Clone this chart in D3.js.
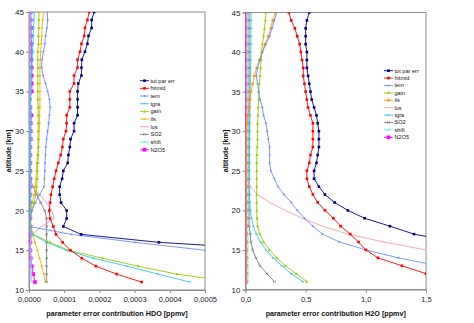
<!DOCTYPE html>
<html>
<head>
<script src="https://cdnjs.cloudflare.com/ajax/libs/d3/7.8.5/d3.min.js"></script>
<style>
  body { margin: 0; background: #fff; }
  svg { font-family: "Liberation Sans", Arial, sans-serif; }
  .tick text { fill: #222; }
</style>
</head>
<body>
<div id="vis"></div>
<script>
// altitude levels [km], top to bottom
const altitudes = [45,44,43,42,41,40,39,38,37,36,35,34,33,32,31,30,29,28,27,26,25,24,23,22,21,20,19,18,17,16,15,14,13,12,11];

// ---- HDO panel, values in 1e-4 ppmv (null = not plotted) ----
const hdoTot    = [1.85,1.78,1.78,1.69,1.66,1.59,1.50,1.49,1.49,1.40,1.38,1.38,1.38,1.38,1.28,1.28,1.18,1.16,1.12,1.10,0.975,0.94,0.87,0.87,0.91,1.07,1.07,0.975,1.48,3.69,7.4,null,null,null,null];
const hdoHitmid = [1.71,1.66,1.59,1.57,1.49,1.45,1.38,1.38,1.28,1.28,1.16,1.16,1.16,1.07,1.07,1.05,0.975,0.95,0.90,0.833,0.767,0.716,0.672,0.625,0.60,0.578,0.60,0.69,0.767,0.956,1.18,1.50,1.90,2.49,3.20];
const hdoTem    = [0.52,0.53,0.51,0.47,0.45,0.41,0.37,0.36,0.40,0.47,0.53,0.58,0.60,0.58,0.56,0.53,0.50,0.48,0.47,0.455,0.45,0.44,0.43,0.30,0.18,0.08,0.03,0.01,1.2,3.0,5.0,7.5,null,null,null];
const hdoTgra   = [0.15,0.14,0.13,0.12,0.11,0.10,0.09,0.08,0.07,0.06,0.05,0.04,0.03,0.03,0.03,0.03,0.03,0.03,0.03,0.03,0.03,0.03,0.03,0.03,0.03,0.03,0.03,0.03,0.10,0.50,1.07,1.83,2.78,3.67,4.57];
const hdoGain   = [0.28,0.28,0.28,0.27,0.27,0.25,0.25,0.25,0.25,0.25,0.25,0.25,0.26,0.26,0.26,0.26,0.26,0.26,0.26,0.25,0.24,0.23,0.22,0.19,0.14,0.08,0.04,0.03,0.12,0.60,1.12,2.09,3.10,4.20,5.8];
const hdoIls    = [0.41,0.39,0.37,0.36,0.35,0.33,0.32,0.31,0.31,0.31,0.31,0.31,0.31,0.30,0.30,0.29,0.28,0.27,0.25,0.22,0.21,0.20,0.18,0.14,0.09,0.05,0.04,0.06,0.10,0.17,0.24,0.30,0.36,0.42,0.47];
const hdoLos    = [0.01,0.01,0.01,0.01,0.01,0.01,0.01,0.01,0.01,0.01,0.01,0.01,0.01,0.01,0.01,0.01,0.01,0.01,0.01,0.01,0.01,0.02,0.10,0.30,0.50,0.65,0.72,0.35,0.10,0.03,0.03,0.03,0.03,0.03,0.03];
const hdoSo2    = [0.02,0.02,0.02,0.02,0.02,0.02,0.02,0.02,0.02,0.02,0.02,0.02,0.02,0.02,0.02,0.02,0.02,0.02,0.02,0.02,0.02,0.03,0.12,0.22,0.33,0.45,0.50,0.50,0.50,0.50,0.50,0.50,0.50,0.50,0.50];
const hdoShift  = [0.05,0.05,0.05,0.05,0.05,0.05,0.05,0.05,0.05,0.05,0.05,0.05,0.05,0.05,0.05,0.05,0.05,0.05,0.05,0.05,0.05,0.05,0.05,0.05,0.05,0.05,0.05,0.05,0.05,0.05,0.05,0.06,0.06,0.07,0.08];
const hdoN2o5   = [0.05,0.05,0.06,0.06,0.07,0.07,0.07,0.08,0.08,0.08,0.08,0.02,0.04,0.07,0.05,0.05,0.05,0.04,0.04,0.04,0.04,0.04,0.04,0.04,0.04,0.04,0.04,0.04,0.04,0.04,0.04,0.05,0.08,0.12,0.17];

// ---- H2O panel, values in ppmv ----
const h2oTot    = [0.53,0.51,0.50,0.50,0.50,0.51,0.51,0.51,0.52,0.53,0.54,0.55,0.57,0.59,0.60,0.61,0.61,0.61,0.60,0.59,0.57,0.57,0.61,0.66,0.74,0.85,0.99,1.20,1.40,1.75,null,null,null,null,null];
const h2oHitmid = [0.36,0.38,0.41,0.43,0.45,0.46,0.47,0.48,0.48,0.49,0.50,0.51,0.52,0.54,0.56,0.56,0.56,0.56,0.54,0.53,0.51,0.51,0.53,0.56,0.60,0.66,0.73,0.79,0.87,0.94,1.00,1.10,1.30,1.50,1.70];
const h2oTem    = [0.26,0.24,0.22,0.20,0.17,0.14,0.12,0.10,0.09,0.10,0.11,0.12,0.14,0.15,0.17,0.18,0.19,0.20,0.20,0.20,0.21,0.24,0.27,0.32,0.38,0.43,0.49,0.56,0.64,0.78,1.00,1.27,1.60,1.95,2.30];
const h2oGain   = [0.17,0.165,0.158,0.15,0.14,0.134,0.13,0.125,0.12,0.115,0.11,0.11,0.105,0.105,0.10,0.10,0.10,0.097,0.095,0.093,0.093,0.093,0.093,0.093,0.093,0.093,0.095,0.10,0.12,0.15,0.20,0.26,0.33,0.42,0.51];
const h2oIls    = [0.25,0.226,0.21,0.19,0.162,0.137,0.115,0.093,0.073,0.06,0.046,0.038,0.027,0.02,0.012,0.008,0.006,0.006,0.006,0.006,0.006,0.006,0.006,0.006,0.006,0.006,0.006,0.006,0.006,0.006,0.006,0.006,0.006,0.006,0.006];
const h2oLos    = [0.01,0.01,0.01,0.01,0.01,0.01,0.01,0.01,0.01,0.01,0.01,0.01,0.01,0.01,0.01,0.01,0.01,0.01,0.01,0.01,0.01,0.01,0.04,0.10,0.20,0.33,0.47,0.64,0.85,1.15,1.50,1.85,null,null,null];
const h2oTgra   = [0.046,0.046,0.045,0.045,0.044,0.044,0.043,0.042,0.041,0.040,0.039,0.038,0.037,0.036,0.035,0.034,0.033,0.032,0.031,0.030,0.030,0.030,0.031,0.033,0.035,0.040,0.050,0.065,0.09,0.125,0.17,0.23,0.30,0.38,0.475];
const h2oSo2    = [0.03,0.03,0.03,0.03,0.03,0.03,0.03,0.03,0.03,0.03,0.03,0.03,0.03,0.03,0.03,0.03,0.03,0.03,0.03,0.03,0.03,0.03,0.03,0.03,0.03,0.03,0.03,0.03,0.04,0.045,0.06,0.087,0.12,0.178,0.24];
const h2oShift  = [0.02,0.02,0.02,0.02,0.02,0.02,0.02,0.02,0.02,0.02,0.02,0.02,0.02,0.02,0.02,0.02,0.02,0.02,0.02,0.02,0.02,0.02,0.02,0.02,0.02,0.02,0.02,0.02,0.02,0.02,0.02,0.02,0.02,0.02,0.02];
const h2oN2o5   = [0.003,0.003,0.003,0.003,0.003,0.003,0.003,0.003,0.003,0.003,0.003,0.003,0.003,0.003,0.003,0.003,0.003,0.003,0.003,0.003,0.003,0.003,0.003,0.003,0.003,0.003,0.003,0.003,0.003,0.003,0.003,0.003,0.003,0.003,0.003];

const yTicks = [10,15,20,25,30,35,40,45];
const hdoTicks = [0, 0.0001, 0.0002, 0.0003, 0.0004, 0.0005];
const h2oTicks = [0, 0.5, 1.0, 1.5];

// series styles: colour + marker
const sty = {
  tot:    {c: "#000080", m: "square", s: 2.6},
  hitmid: {c: "#ff0000", m: "square", s: 2.6},
  tem:    {c: "#6f8cff", m: "plus",   s: 2.4},
  tgra:   {c: "#33c6e6", m: "dash",   s: 2.4},
  gain:   {c: "#99cc00", m: "tri",    s: 2.8},
  ilsL:   {c: "#e8b800", m: "dash",   s: 2.4},
  ilsR:   {c: "#ff9900", m: "square", s: 2.4},
  losL:   {c: "#e890d8", m: "none",   s: 0},
  losR:   {c: "#f4a0a0", m: "none",   s: 0},
  so2:    {c: "#808080", m: "star",   s: 2.6},
  shift:  {c: "#66e6ff", m: "dash",   s: 2.4},
  n2o5:   {c: "#ff00ff", m: "square", s: 3.6}
};

const W = 474, H = 323;
const svg = d3.select("#vis").append("svg").attr("width", W).attr("height", H);

const hdoFmt = v => d3.format(".4f")(v).replace(".", ",");
const h2oFmt = v => d3.format(".1f")(v).replace(".", ",");

const panels = [
  {
    id: "hdo", x0: 29, x1: 205, y0: 290, y1: 12, dom: [0, 0.0005], unit: 1e-4,
    ticks: hdoTicks, fmt: hdoFmt, title: "parameter error contribution HDO [ppmv]",
    ylabX: 8, legX: 140, legY: 80.7, legDy: 7.67,
    series: [
      ["tot par err", hdoTot, sty.tot], ["hitmid", hdoHitmid, sty.hitmid], ["tem", hdoTem, sty.tem],
      ["tgra", hdoTgra, sty.tgra], ["gain", hdoGain, sty.gain], ["ils", hdoIls, sty.ilsL],
      ["los", hdoLos, sty.losL], ["SO2", hdoSo2, sty.so2], ["shift", hdoShift, sty.shift],
      ["N2O5", hdoN2o5, sty.n2o5]
    ]
  },
  {
    id: "h2o", x0: 245.5, x1: 426, y0: 289.5, y1: 12.5, dom: [0, 1.5], unit: 1,
    ticks: h2oTicks, fmt: h2oFmt, title: "parameter error contribution H2O [ppmv]",
    ylabX: 225, legX: 384, legY: 70.7, legDy: 7.4,
    series: [
      ["tot par err", h2oTot, sty.tot], ["hitmid", h2oHitmid, sty.hitmid], ["tem", h2oTem, sty.tem],
      ["gain", h2oGain, sty.gain], ["ils", h2oIls, sty.ilsR], ["los", h2oLos, sty.losR],
      ["tgra", h2oTgra, sty.tgra], ["SO2", h2oSo2, sty.so2], ["shift", h2oShift, sty.shift],
      ["N2O5", h2oN2o5, sty.n2o5]
    ]
  }
];

function marker(g, st, x, y) {
  const s = st.s;
  if (st.m === "square") {
    g.append("rect").attr("x", x - s / 2).attr("y", y - s / 2).attr("width", s).attr("height", s).attr("fill", st.c);
  } else if (st.m === "tri") {
    g.append("path").attr("d", `M${x},${y - s * 0.6}L${x + s * 0.55},${y + s * 0.4}L${x - s * 0.55},${y + s * 0.4}Z`).attr("fill", st.c);
  } else if (st.m === "plus") {
    g.append("path").attr("d", `M${x - s / 2},${y}h${s}M${x},${y - s / 2}v${s}`).attr("stroke", st.c).attr("stroke-width", 0.7);
  } else if (st.m === "dash") {
    g.append("path").attr("d", `M${x - s / 2},${y}h${s}`).attr("stroke", st.c).attr("stroke-width", 1.1);
  } else if (st.m === "star") {
    g.append("path").attr("d", `M${x - s / 2},${y - s / 2}l${s},${s}M${x - s / 2},${y + s / 2}l${s},${-s}M${x - s / 2},${y}h${s}`)
      .attr("stroke", st.c).attr("stroke-width", 0.6);
  }
}

panels.forEach(p => {
  const x = d3.scaleLinear().domain(p.dom).range([p.x0, p.x1]);
  const y = d3.scaleLinear().domain([10, 45]).range([p.y0, p.y1]);
  const g = svg.append("g").attr("id", p.id);

  g.append("clipPath").attr("id", "clip-" + p.id).append("rect")
    .attr("x", p.x0).attr("y", p.y1).attr("width", p.x1 - p.x0).attr("height", p.y0 - p.y1);

  // frame
  g.append("rect").attr("x", p.x0).attr("y", p.y1).attr("width", p.x1 - p.x0).attr("height", p.y0 - p.y1)
    .attr("fill", "none").attr("stroke", "#8c8c8c").attr("stroke-width", 1);

  const yAx = g.append("g").attr("transform", `translate(${p.x0},0)`)
    .call(d3.axisLeft(y).tickValues(yTicks).tickSize(3).tickPadding(2));
  yAx.selectAll("text").style("font-size", "8px");
  const xAx = g.append("g").attr("transform", `translate(0,${p.y0})`)
    .call(d3.axisBottom(x).tickValues(p.ticks).tickFormat(p.fmt).tickSize(3).tickPadding(4));
  xAx.selectAll("text").style("font-size", "7.5px");
  g.selectAll(".domain").attr("stroke", "#8c8c8c");
  g.selectAll(".tick line").attr("stroke", "#8c8c8c");

  g.append("text").attr("x", (p.x0 + p.x1) / 2).attr("y", 316).attr("text-anchor", "middle")
    .style("font-size", "7.2px").style("font-weight", "bold").attr("fill", "#111").text(p.title);
  g.append("text").attr("transform", `translate(${p.ylabX},${(p.y0 + p.y1) / 2}) rotate(-90)`)
    .attr("text-anchor", "middle").attr("dy", "0.35em")
    .style("font-size", "7.2px").style("font-weight", "bold").attr("fill", "#111").text("altitude [km]");

  const plot = g.append("g").attr("clip-path", `url(#clip-${p.id})`);
  const line = d3.line().defined(d => d[0] != null).x(d => x(d[0] * p.unit)).y(d => y(d[1]));

  // draw bottom of legend first so tot par err sits on top
  p.series.slice().reverse().forEach(([name, vals, st]) => {
    const pts = vals.map((v, i) => [v, altitudes[i]]);
    plot.append("path").datum(pts).attr("d", line).attr("fill", "none")
      .attr("stroke", st.c).attr("stroke-width", 0.9);
    const mg = plot.append("g");
    pts.filter(d => d[0] != null).forEach(d => marker(mg, st, x(d[0] * p.unit), y(d[1])));
  });

  // legend
  const leg = g.append("g");
  p.series.forEach(([name, vals, st], i) => {
    const ly = p.legY + i * p.legDy;
    leg.append("line").attr("x1", p.legX).attr("x2", p.legX + 9).attr("y1", ly).attr("y2", ly)
      .attr("stroke", st.c).attr("stroke-width", 0.9);
    marker(leg, st, p.legX + 4.5, ly);
    leg.append("text").attr("x", p.legX + 10.5).attr("y", ly).attr("dy", "0.35em")
      .style("font-size", "5.6px").attr("fill", "#111").text(name);
  });
});
</script>
</body>
</html>
